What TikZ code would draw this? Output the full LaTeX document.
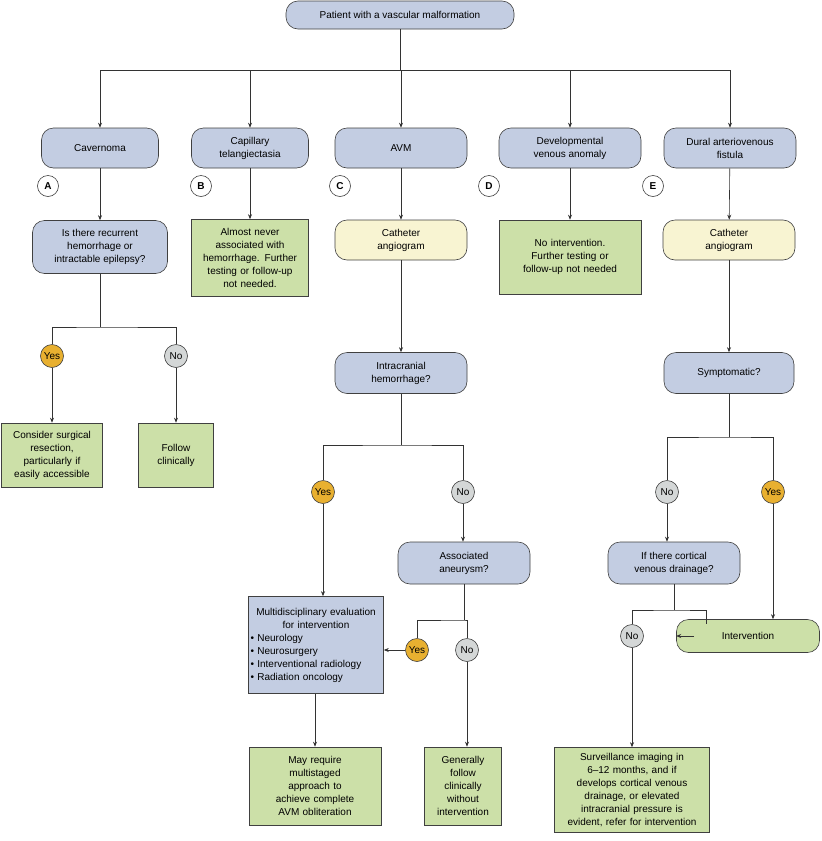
\documentclass[tikz,border=0pt]{standalone}
\usepackage{fontspec}
\setmainfont{Liberation Sans}
\usetikzlibrary{arrows.meta}
\definecolor{qblue}{HTML}{C3CDE2}
\definecolor{qgreen}{HTML}{CCE0A8}
\definecolor{qyellow}{HTML}{F8F4D2}
\definecolor{qorange}{HTML}{E8B030}
\definecolor{qgrey}{HTML}{D4D7D7}
\tikzset{
  base/.style = {draw=black!75, line width=0.6pt, align=center, inner sep=2pt,
    font=\fontsize{10}{13}\selectfont},
  pill/.style = {base, rounded corners=12pt, fill=qblue, minimum height=40pt},
  cath/.style = {pill, fill=qyellow},
  outcome/.style = {base, fill=qgreen},
  yes/.style = {base, circle, fill=qorange, minimum size=23pt, inner sep=0pt},
  no/.style = {yes, fill=qgrey},
  tag/.style = {base, circle, fill=white, minimum size=21pt, inner sep=0pt, font=\fontsize{10}{12}\selectfont\bfseries},
  arr/.style = {-{Stealth[length=5pt,width=4pt]}, line width=0.6pt, black!80},
  ln/.style = {line width=0.6pt, black!80}
}
\begin{document}
\begin{tikzpicture}[x=1pt,y=-1pt]
  \useasboundingbox (0,0) rectangle (822,841);

  %top
  \node[pill, minimum width=228pt, minimum height=28pt] (patient) at (400,15) {Patient with a vascular malformation};

  %first row
  \node[pill, minimum width=117pt] (cav) at (100,148) {Cavernoma};
  \node[pill, minimum width=117pt] (cap) at (250,148) {Capillary\\telangiectasia};
  \node[pill, minimum width=132pt] (avm) at (401,148) {AVM};
  \node[pill, minimum width=142pt] (dva) at (570,148) {Developmental\\venous anomaly};
  \node[pill, minimum width=132pt] (dural) at (730,148) {Dural arteriovenous\\fistula};

  \node[tag] (tA) at (48,186) {A};
  \node[tag] (tB) at (201,186) {B};
  \node[tag] (tC) at (340,186) {C};
  \node[tag] (tD) at (489,186) {D};
  \node[tag] (tE) at (653,186) {E};

  \coordinate (bus) at (400,70);
  \draw[ln] (patient) -- (bus);
  \draw[ln] (cav.north |- bus) -- (dural.north |- bus);
  \foreach \n in {cav,cap,avm,dva,dural}
    \draw[arr] (\n.north |- bus) -- (\n.north);

  %A: cavernoma
  \node[pill, minimum width=135pt, minimum height=53pt] (recur) at (100,247) {Is there recurrent\\hemorrhage or\\intractable epilepsy?};
  \node[yes] (yA) at (52,356) {Yes};
  \node[no] (nA) at (176,356) {No};
  \node[outcome, text width=97pt, minimum height=64pt] (surg) at (52,455) {Consider surgical\\resection,\\particularly if\\easily accessible};
  \node[outcome, text width=71pt, minimum height=64pt] (follow) at (176,455) {Follow\\clinically};
  \draw[arr] (cav) -- (recur);
  \coordinate (jA) at (100,327);
  \draw[ln] (recur) -- (jA);
  \draw[ln] (yA) |- (jA) -| (nA);
  \draw[arr] (yA) -- (surg);
  \draw[arr] (nA) -- (follow);

  %B: capillary
  \node[outcome, text width=113pt, minimum height=77pt] (capout) at (250,258) {Almost never\\associated with\\hemorrhage. Further\\testing or follow-up\\not needed.};
  \draw[arr] (cap) -- (capout);

  %C: AVM
  \node[cath, minimum width=132pt] (cathC) at (401,240) {Catheter\\angiogram};
  \node[pill, minimum width=132pt, minimum height=41pt] (hem) at (401,373) {Intracranial\\hemorrhage?};
  \node[yes] (yC) at (323,492) {Yes};
  \node[no] (nC) at (463,492) {No};
  \node[pill, minimum width=132pt, minimum height=42pt] (aneu) at (464,563) {Associated\\aneurysm?};
  \node[base, fill=qblue, text width=131pt, minimum height=97pt, align=left] (multi) at (316,645)
    {\centering Multidisciplinary evaluation\\for intervention\par
     \raggedright\textbullet\ Neurology\\\textbullet\ Neurosurgery\\\textbullet\ Interventional radiology\\\textbullet\ Radiation oncology};
  \node[yes] (yC2) at (417,650) {Yes};
  \node[no] (nC2) at (467,650) {No};
  \node[outcome, text width=128pt, minimum height=78pt] (multistage) at (315,786) {May require\\multistaged\\approach to\\achieve complete\\AVM obliteration};
  \node[outcome, text width=73pt, minimum height=78pt] (general) at (463,786) {Generally\\follow\\clinically\\without\\intervention};
  \draw[arr] (avm) -- (cathC);
  \draw[arr] (cathC) -- (hem);
  \coordinate (jC) at (401,445);
  \draw[ln] (hem) -- (jC);
  \draw[ln] (yC) |- (jC) -| (nC);
  \draw[arr] (nC) -- (aneu.north -| nC);
  \draw[arr] (yC) -- (multi.north -| yC);
  \coordinate (jC2) at (464,620);
  \draw[ln] (aneu) -- (jC2);
  \draw[ln] (yC2) |- (jC2) -| (nC2);
  \draw[arr] (yC2) -- (multi.east |- yC2);
  \draw[arr] (nC2) -- (general.north -| nC2);
  \draw[arr] (multi.south -| multistage) -- (multistage);

  %D: DVA
  \node[outcome, text width=138pt, minimum height=74pt] (dvaout) at (570,257) {No intervention.\\Further testing or\\follow-up not needed};
  \draw[arr] (dva) -- (dvaout);

  %E: dural fistula
  \node[cath, minimum width=132pt] (cathE) at (729,240) {Catheter\\angiogram};
  \node[pill, minimum width=130pt, minimum height=41pt] (sympt) at (729,373) {Symptomatic?};
  \node[no] (nE) at (667,492) {No};
  \node[yes] (yE) at (773,492) {Yes};
  \node[pill, minimum width=132pt, minimum height=42pt] (cvd) at (674,563) {If there cortical\\venous drainage?};
  \node[no] (nE2) at (632,636) {No};
  \node[yes] (yE2) at (706,636) {Yes};
  \node[outcome, rounded corners=12pt, minimum width=143pt, minimum height=33pt] (interv) at (748,636) {Intervention};
  \node[outcome, text width=151pt, minimum height=85pt] (surv) at (632,790) {Surveillance imaging in\\6–12 months, and if\\develops cortical venous\\drainage, or elevated\\intracranial pressure is\\evident, refer for intervention};
  \draw[arr] (dural) -- (cathE);
  \draw[arr] (cathE) -- (sympt);
  \coordinate (jE) at (729,437);
  \draw[ln] (sympt) -- (jE);
  \draw[ln] (nE) |- (jE) -| (yE);
  \draw[arr] (nE) -- (cvd.north -| nE);
  \draw[arr] (yE) -- (interv.north -| yE);
  \coordinate (jE2) at (674,610);
  \draw[ln] (cvd) -- (jE2);
  \draw[ln] (nE2) |- (jE2) -| (yE2);
  \draw[arr] (yE2) -- (interv);
  \draw[arr] (nE2) -- (surv);
\end{tikzpicture}
\end{document}
